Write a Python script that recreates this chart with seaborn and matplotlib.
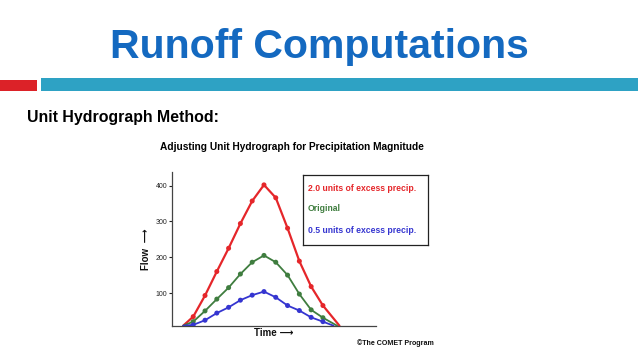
import pandas as pd
import seaborn as sns
import matplotlib.pyplot as plt

# values
time = list(range(1, 13))
double = [34, 93, 160, 225, 294, 357, 402, 366, 281, 189, 118, 65]
original = [20, 50, 83, 115, 153, 186, 205, 186, 150, 97, 53, 31]
half = [11, 24, 44, 60, 80, 94, 104, 88, 65, 51, 32, 20]
series_names = ["2.0 units of excess precip.", "Original", "0.5 units of excess precip."]
series_values = [double, original, half]
series_end = [13.4, 13.2, 12.9]  # where each curve meets the base line again
start_time = 0.15
baseline = 8.7
y_ticks = [100, 200, 300, 400]

colors = ["#e5262a", "#3f7d3f", "#3535d0"]
palette = dict(zip(series_names, colors))

rows = []
pts = []
for name, vals, t_end in zip(series_names, series_values, series_end):
    rows.append((name, start_time, baseline))
    for t, v in zip(time, vals):
        rows.append((name, t, v))
        pts.append((name, t, v))
    rows.append((name, t_end, baseline))
lines = pd.DataFrame(rows, columns=["series", "time", "flow"])
points = pd.DataFrame(pts, columns=["series", "time", "flow"])

sns.set_theme(style="white")
plt.rcParams["font.family"] = ["Liberation Sans", "DejaVu Sans"]

W, H = 638, 359
fig = plt.figure(figsize=(W / 100, H / 100), dpi=100)
fig.patch.set_facecolor("white")

# slide header
fig.text(0.5, 1 - 58 / H, "Runoff Computations", ha="center", va="baseline",
         fontsize=29.5, fontweight="bold", color="#1469c0")
fig.add_artist(plt.Rectangle((0, 1 - 90.5 / H), 37 / W, 11 / H,
                             transform=fig.transFigure, color="#dc2228", lw=0))
fig.add_artist(plt.Rectangle((41 / W, 1 - 90.5 / H), 597 / W, 12 / H,
                             transform=fig.transFigure, color="#2ea2c4", lw=0))
fig.text(27 / W, 1 - 118 / H, "Unit Hydrograph Method:", ha="left", va="center",
         fontsize=11.4, fontweight="bold", color="black")
fig.text(292 / W, 1 - 147 / H, "Adjusting Unit Hydrograph for Precipitation Magnitude",
         ha="center", va="center", fontsize=7.3, fontweight="bold", color="black")
fig.text(357 / W, 1 - 343 / H, "\u00a9The COMET Program", ha="left", va="center",
         fontsize=5.1, fontweight="bold", color="#111111")

ax = fig.add_axes([172 / W, 1 - 325.7 / H, 204 / W, 153.7 / H])
sns.lineplot(data=lines, x="time", y="flow", hue="series", palette=palette,
             sort=False, linewidth=1.3, legend=False, ax=ax)
sns.scatterplot(data=points, x="time", y="flow", hue="series", palette=palette,
                s=13, linewidth=0, legend=False, ax=ax, zorder=3)
ax.lines[0].set_linewidth(1.6)

ax.set_xlim(-0.8, 16.5)
ax.set_ylim(baseline, 438)
ax.set_xticks([])
ax.set_yticks(y_ticks)
ax.set_yticklabels([str(v) for v in y_ticks])
ax.tick_params(axis="y", direction="out", length=2.5, width=0.8, labelsize=5,
               pad=1, left=True, colors="#222222")
for side in ["top", "right"]:
    ax.spines[side].set_visible(False)
for side in ["left", "bottom"]:
    ax.spines[side].set_color("#444444")
    ax.spines[side].set_linewidth(0.9)
ax.set_xlabel("Time \u27f6", fontsize=7, fontweight="bold", labelpad=2, color="#111111")
ax.set_ylabel("Flow  \u27f6", fontsize=7, fontweight="bold", labelpad=3, color="#111111")

# legend box
box = fig.add_axes([303 / W, 1 - 245 / H, 125 / W, 70 / H])
box.set_xticks([])
box.set_yticks([])
for s in box.spines.values():
    s.set_color("#222222")
    s.set_linewidth(0.9)
for name, c, yy in zip(series_names, colors, [0.81, 0.524, 0.214]):
    box.text(0.04, yy, name, color=c, fontsize=6.2, fontweight="bold",
             ha="left", va="center", transform=box.transAxes)

fig.savefig("out.png", dpi=100, facecolor="white")
